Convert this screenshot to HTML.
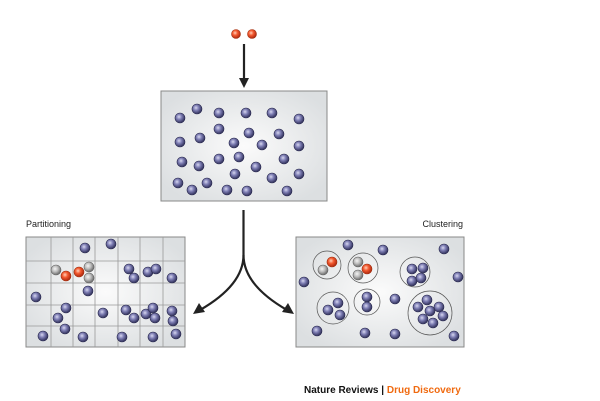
<!DOCTYPE html>
<html><head><meta charset="utf-8"><style>
html,body{margin:0;padding:0;background:#fff;}
svg{display:block;}
text{font-family:"Liberation Sans",sans-serif;}
</style></head><body>
<svg width="600" height="401" viewBox="0 0 600 401" xmlns="http://www.w3.org/2000/svg">
<defs>
<radialGradient id="bg" cx="50%" cy="50%" r="60%"><stop offset="0" stop-color="#fbfbfb"/><stop offset="1" stop-color="#dcdfe1"/></radialGradient>
<radialGradient id="bl" cx="40%" cy="38%" r="60%"><stop offset="0" stop-color="#d8d8f0"/><stop offset="0.45" stop-color="#7e7eb4"/><stop offset="1" stop-color="#34345e"/></radialGradient>
<radialGradient id="rd" cx="40%" cy="38%" r="60%"><stop offset="0" stop-color="#ffd0b8"/><stop offset="0.45" stop-color="#f45a30"/><stop offset="1" stop-color="#b02a10"/></radialGradient>
<radialGradient id="gr" cx="40%" cy="38%" r="60%"><stop offset="0" stop-color="#f4f4f4"/><stop offset="0.5" stop-color="#bdbdbd"/><stop offset="1" stop-color="#6e6e6e"/></radialGradient>
</defs>

<!-- top red -->
<circle cx="236" cy="34" r="4.5" fill="url(#rd)" stroke="#a03010" stroke-width="0.6"/>
<circle cx="252" cy="34" r="4.5" fill="url(#rd)" stroke="#a03010" stroke-width="0.6"/>
<line x1="244" y1="44" x2="244" y2="80" stroke="#222" stroke-width="2.2"/>
<polygon points="239,78 249,78 244,88" fill="#222"/>

<!-- top box -->
<rect x="161" y="91" width="166" height="110" fill="url(#bg)" stroke="#888" stroke-width="1"/>
<g fill="url(#bl)" stroke="#2a2a50" stroke-width="0.6">
<circle cx="180" cy="118" r="5"/><circle cx="197" cy="109" r="5"/><circle cx="219" cy="113" r="5"/><circle cx="246" cy="113" r="5"/><circle cx="272" cy="113" r="5"/><circle cx="299" cy="119" r="5"/>
<circle cx="219" cy="129" r="5"/><circle cx="180" cy="142" r="5"/><circle cx="200" cy="138" r="5"/><circle cx="249" cy="133" r="5"/><circle cx="279" cy="134" r="5"/><circle cx="234" cy="143" r="5"/><circle cx="262" cy="145" r="5"/><circle cx="299" cy="146" r="5"/>
<circle cx="182" cy="162" r="5"/><circle cx="199" cy="166" r="5"/><circle cx="219" cy="159" r="5"/><circle cx="239" cy="157" r="5"/><circle cx="256" cy="167" r="5"/><circle cx="284" cy="159" r="5"/><circle cx="235" cy="174" r="5"/><circle cx="272" cy="178" r="5"/><circle cx="299" cy="174" r="5"/>
<circle cx="178" cy="183" r="5"/><circle cx="192" cy="190" r="5"/><circle cx="207" cy="183" r="5"/><circle cx="227" cy="190" r="5"/><circle cx="247" cy="191" r="5"/><circle cx="287" cy="191" r="5"/>
</g>

<!-- split arrows -->
<path d="M243.5 210 L243.5 255 Q243.5 285 200 310" fill="none" stroke="#222" stroke-width="2.2"/>
<path d="M243.5 255 Q243.5 285 287 310" fill="none" stroke="#222" stroke-width="2.2"/>
<polygon points="193,314 199,303 205,312" fill="#222"/>
<polygon points="294,314 282,312 288,303" fill="#222"/>

<!-- partitioning -->
<text x="26" y="227" font-size="9" fill="#222">Partitioning</text>
<rect x="26" y="237" width="159" height="110" fill="url(#bg)" stroke="#888" stroke-width="1"/>
<g stroke="#999" stroke-width="0.8">
<line x1="51" y1="237" x2="51" y2="347"/><line x1="73" y1="237" x2="73" y2="347"/><line x1="95" y1="237" x2="95" y2="347"/><line x1="118" y1="237" x2="118" y2="347"/><line x1="140" y1="237" x2="140" y2="347"/><line x1="163" y1="237" x2="163" y2="347"/>
<line x1="26" y1="261" x2="185" y2="261"/><line x1="26" y1="283" x2="185" y2="283"/><line x1="26" y1="305" x2="185" y2="305"/><line x1="26" y1="326" x2="185" y2="326"/>
</g>
<g stroke-width="0.6">
<circle cx="56" cy="270" r="5" fill="url(#gr)" stroke="#666"/>
<circle cx="89" cy="267" r="5" fill="url(#gr)" stroke="#666"/>
<circle cx="89" cy="278" r="5" fill="url(#gr)" stroke="#666"/>
<circle cx="66" cy="276" r="5" fill="url(#rd)" stroke="#a03010"/>
<circle cx="79" cy="272" r="5" fill="url(#rd)" stroke="#a03010"/>
</g>
<g fill="url(#bl)" stroke="#2a2a50" stroke-width="0.6">
<circle cx="85" cy="248" r="5"/><circle cx="111" cy="244" r="5"/><circle cx="129" cy="269" r="5"/><circle cx="134" cy="278" r="5"/><circle cx="148" cy="272" r="5"/><circle cx="156" cy="269" r="5"/><circle cx="172" cy="278" r="5"/>
<circle cx="88" cy="291" r="5"/><circle cx="36" cy="297" r="5"/><circle cx="66" cy="308" r="5"/><circle cx="58" cy="318" r="5"/><circle cx="103" cy="313" r="5"/><circle cx="126" cy="310" r="5"/><circle cx="134" cy="318" r="5"/><circle cx="146" cy="314" r="5"/><circle cx="153" cy="308" r="5"/><circle cx="155" cy="318" r="5"/><circle cx="172" cy="311" r="5"/><circle cx="173" cy="321" r="5"/>
<circle cx="65" cy="329" r="5"/><circle cx="43" cy="336" r="5"/><circle cx="83" cy="337" r="5"/><circle cx="122" cy="337" r="5"/><circle cx="153" cy="337" r="5"/><circle cx="176" cy="334" r="5"/>
</g>

<!-- clustering -->
<text x="463" y="227" font-size="9" fill="#222" text-anchor="end">Clustering</text>
<rect x="296" y="237" width="168" height="110" fill="url(#bg)" stroke="#888" stroke-width="1"/>
<g fill="none" stroke="#555" stroke-width="0.7">
<circle cx="327" cy="265" r="14"/><circle cx="363" cy="268" r="15"/><circle cx="415" cy="272" r="15"/><circle cx="333" cy="308" r="16"/><circle cx="367" cy="302" r="13"/><circle cx="430" cy="313" r="22"/>
</g>
<g stroke-width="0.6">
<circle cx="323" cy="270" r="5" fill="url(#gr)" stroke="#666"/>
<circle cx="358" cy="262" r="5" fill="url(#gr)" stroke="#666"/>
<circle cx="358" cy="275" r="5" fill="url(#gr)" stroke="#666"/>
<circle cx="332" cy="262" r="5" fill="url(#rd)" stroke="#a03010"/>
<circle cx="367" cy="269" r="5" fill="url(#rd)" stroke="#a03010"/>
</g>
<g fill="url(#bl)" stroke="#2a2a50" stroke-width="0.6">
<circle cx="348" cy="245" r="5"/><circle cx="383" cy="250" r="5"/><circle cx="444" cy="249" r="5"/><circle cx="304" cy="282" r="5"/><circle cx="458" cy="277" r="5"/><circle cx="395" cy="299" r="5"/>
<circle cx="317" cy="331" r="5"/><circle cx="365" cy="333" r="5"/><circle cx="395" cy="334" r="5"/><circle cx="454" cy="336" r="5"/>
<circle cx="412" cy="269" r="5"/><circle cx="423" cy="268" r="5"/><circle cx="412" cy="281" r="5"/><circle cx="421" cy="278" r="5"/>
<circle cx="338" cy="303" r="5"/><circle cx="328" cy="310" r="5"/><circle cx="340" cy="315" r="5"/>
<circle cx="367" cy="297" r="5"/><circle cx="367" cy="307" r="5"/>
<circle cx="427" cy="300" r="5"/><circle cx="418" cy="307" r="5"/><circle cx="439" cy="307" r="5"/><circle cx="430" cy="311" r="5"/><circle cx="423" cy="319" r="5"/><circle cx="443" cy="316" r="5"/><circle cx="433" cy="323" r="5"/>
</g>

<text x="304" y="393" font-size="10" font-weight="bold" fill="#111">Nature Reviews | <tspan fill="#f06a10">Drug Discovery</tspan></text>
</svg>
</body></html>
